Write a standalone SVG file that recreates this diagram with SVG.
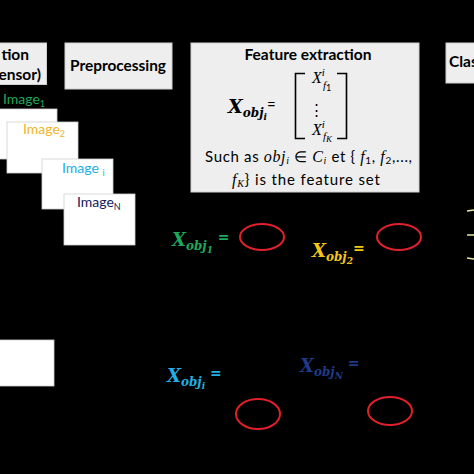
<svg xmlns="http://www.w3.org/2000/svg" width="474" height="474" viewBox="0 0 474 474">
<style>
.box{fill:#eeeeee;stroke:#cfcfcf;stroke-width:1}
.card{fill:#ffffff;stroke:#d0d0d0;stroke-width:0.8}
.t{font-family:Lato,"Liberation Sans",sans-serif;font-weight:bold;fill:#000}
.n{font-family:Lato,"Liberation Sans",sans-serif;fill:#000}
.m{font-family:"DejaVu Serif","Liberation Serif",serif;font-style:italic;font-weight:bold}
.mi{font-family:"Liberation Serif","DejaVu Serif",serif;font-style:italic}
.img{font-family:Lato,"Liberation Sans",sans-serif;font-size:14px}
.ell{fill:none;stroke:#e0202a;stroke-width:2}
</style>
<rect width="474" height="474" fill="#000"/>

<g id="acquisition">
<rect class="box" x="-5" y="43" width="51.5" height="41.5"/>
<text class="t" x="29" y="60" font-size="15.5" text-anchor="end">tion</text>
<text class="t" x="41" y="80" font-size="15.5" text-anchor="end">ensor)</text>
</g>

<g id="preprocessing">
<rect class="box" x="65" y="43" width="107" height="46"/>
<text class="t" x="118" y="71" font-size="15.5" text-anchor="middle" textLength="96" lengthAdjust="spacingAndGlyphs">Preprocessing</text>
</g>

<g id="feature-extraction">
<rect class="box" x="191" y="43" width="228" height="149"/>
<text class="t" x="308" y="60" font-size="15.5" text-anchor="middle" textLength="127" lengthAdjust="spacingAndGlyphs">Feature extraction</text>
<text class="m" x="228" y="113" font-size="19" fill="#000">X<tspan font-size="12" dy="4">obj</tspan><tspan font-size="9" dy="3">i</tspan><tspan class="n" font-style="normal" font-weight="normal" font-size="15" dy="-10">=</tspan></text>
<path d="M305 73.5H295.5V138.5H305M337 73.5H346.5V138.5H337" fill="none" stroke="#000" stroke-width="1.6"/>
<text class="mi" x="312" y="83" font-size="16" fill="#000">X<tspan font-size="11" dy="-7">i</tspan></text>
<text class="mi" x="323" y="89" font-size="11" fill="#000">f<tspan font-family="Lato,sans-serif" font-style="normal" font-size="9" dy="2">1</tspan></text>
<text class="n" x="316" y="115" font-size="15" text-anchor="middle">⋮</text>
<text class="mi" x="312" y="135" font-size="16" fill="#000">X<tspan font-size="11" dy="-7">i</tspan></text>
<text class="mi" x="323" y="140" font-size="11" fill="#000">f<tspan font-size="9" dy="2">K</tspan></text>
<text class="n" x="205" y="162" font-size="15" textLength="207" lengthAdjust="spacing">Such as <tspan class="mi" font-size="16">obj</tspan><tspan class="mi" font-size="10" dy="2">i</tspan><tspan dy="-2"> ∈ </tspan><tspan class="mi" font-size="16">C</tspan><tspan class="mi" font-size="10" dy="2">i</tspan><tspan dy="-2"> et { </tspan><tspan class="mi" font-size="16">f</tspan><tspan font-size="10" dy="2">1</tspan><tspan dy="-2">,  </tspan><tspan class="mi" font-size="16">f</tspan><tspan font-size="10" dy="2">2</tspan><tspan dy="-2">,...,</tspan></text>
<text class="n" x="232" y="185" font-size="15" textLength="148" lengthAdjust="spacing"><tspan class="mi" font-size="16">f</tspan><tspan class="mi" font-size="10" dy="2">K</tspan><tspan dy="-2">} is the feature set</tspan></text>
</g>

<g id="classification">
<rect class="box" x="446" y="43" width="34" height="40"/>
<text class="t" x="449" y="67" font-size="15.5">Clas</text>
</g>

<g id="images">
<text class="img" x="3" y="104" fill="#1fa85a">Image<tspan font-size="9" dy="3">1</tspan></text>
<rect class="card" x="-2" y="109" width="59" height="50"/>
<rect class="card" x="7" y="122" width="71" height="51"/>
<text class="img" x="23" y="134" fill="#f0b429">Image<tspan font-size="9" dy="3">2</tspan></text>
<rect class="card" x="42" y="159" width="71" height="50"/>
<text class="img" x="62" y="173" fill="#22aee6">Image <tspan font-size="9" dy="3">i</tspan></text>
<rect class="card" x="64" y="194" width="71" height="51"/>
<text class="img" x="77" y="207" fill="#14205a">Image<tspan font-size="9" dy="3">N</tspan></text>
</g>

<g id="image-bottom">
<rect class="card" x="-2" y="340" width="56" height="46"/>
</g>

<g id="obj1">
<text class="m" x="172" y="246" font-size="18" fill="#1fa85a">X<tspan font-size="12" dy="4">obj</tspan><tspan font-size="9" dy="3">1</tspan><tspan font-style="normal" font-size="14" dy="-11"> =</tspan></text>
<ellipse class="ell" cx="262" cy="237" rx="22" ry="13"/>
</g>

<g id="obj2">
<text class="m" x="312" y="257" font-size="18" fill="#f5c518">X<tspan font-size="12" dy="4">obj</tspan><tspan font-size="9" dy="3">2</tspan><tspan font-style="normal" font-size="14" dy="-11">=</tspan></text>
<ellipse class="ell" cx="399" cy="237" rx="22" ry="13"/>
</g>

<g id="obji">
<text class="m" x="167" y="382" font-size="18" fill="#22aee6">X<tspan font-size="12" dy="4">obj</tspan><tspan font-size="9" dy="3">i</tspan><tspan font-style="normal" font-size="14" dy="-11"> =</tspan></text>
<ellipse class="ell" cx="258" cy="414" rx="22" ry="15"/>
</g>

<g id="objN">
<text class="m" x="300" y="372" font-size="18" fill="#1f3a88">X<tspan font-size="12" dy="4">obj</tspan><tspan font-size="9" dy="3">N</tspan><tspan font-style="normal" font-size="14" dy="-11"> =</tspan></text>
<ellipse class="ell" cx="390" cy="411" rx="22" ry="14"/>
</g>

<g id="connectors" stroke="#e8e8a0" stroke-width="1.5">
<line x1="467" y1="211" x2="474" y2="210"/>
<line x1="467" y1="235" x2="474" y2="235"/>
<line x1="467" y1="258" x2="474" y2="259"/>
</g>
</svg>
